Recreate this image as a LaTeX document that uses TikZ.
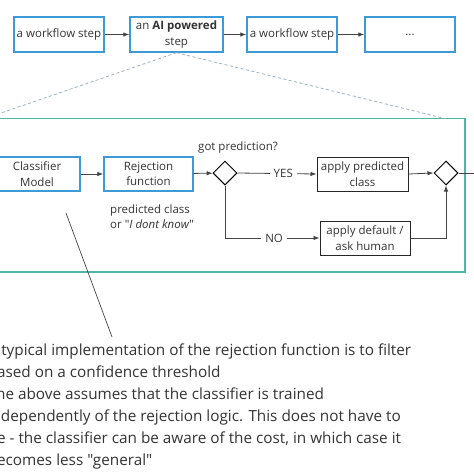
\documentclass[tikz,border=0pt]{standalone}
\usepackage{fontspec}
\setmainfont{Open Sans}[Ligatures=TeXOff]
\usetikzlibrary{shapes.geometric,arrows.meta}
\definecolor{boxblue}{HTML}{3D9AD6}
\definecolor{frameteal}{HTML}{4DB6A8}
\definecolor{linegray}{HTML}{444444}
\definecolor{txt}{HTML}{333333}
\definecolor{dashgray}{HTML}{9AB0BE}
\begin{document}
\begin{tikzpicture}[x=1pt,y=-1pt,
  boxtext/.style={align=center,font=\fontsize{11.5}{15.5}\selectfont,text=txt,inner sep=1pt},
  bluebox/.style={boxtext,draw=boxblue,line width=1.4pt,minimum height=35pt},
  blackbox/.style={boxtext,draw=black!85,line width=1pt,minimum height=34pt},
  dia/.style={diamond,draw=black,line width=1pt,minimum width=24pt,minimum height=24pt,inner sep=0pt},
  arr/.style={-{Latex[length=6pt,width=4.5pt]},draw=linegray,line width=0.8pt},
  plain/.style={draw=linegray,line width=0.8pt},
  lbl/.style={font=\fontsize{11.5}{15.5}\selectfont,text=txt,inner sep=1pt},
  note/.style={anchor=base west,font=\fontsize{15.3}{22}\selectfont,text=txt,inner sep=0pt},
  dashline/.style={draw=dashgray,dash pattern=on 3pt off 2.5pt,line width=0.8pt},
]
\useasboundingbox (0,0) rectangle (474,474);
\clip (0,0) rectangle (474,474);
% top row
\node[bluebox,minimum width=90pt] (w1) at (59,34.5) {a workflow step};
\node[bluebox,minimum width=93pt] (ai) at (176.5,34.5) {an \textbf{AI powered}\\step};
\node[bluebox,minimum width=90pt] (w3) at (292,34.5) {a workflow step};
\node[bluebox,minimum width=90pt] (w4) at (410,34.5) {...};
\draw[arr] (w1) -- (ai);
\draw[arr] (ai) -- (w3);
\draw[arr] (w3) -- (w4);
% frame
\node[draw=frameteal,line width=1.4pt,minimum width=485pt,minimum height=153.5pt,inner sep=0pt] (frame) at (222.5,195.25) {};
\coordinate (dl) at (-15,118.5);
\coordinate (dr) at (445,118.5);
\draw[dashline] (ai.south) -- (dl);
\draw[dashline] (ai.south) -- (dr);
% inner flow
\node[bluebox,minimum width=86pt,minimum height=34pt] (cls) at (37,174) {Classifier\\Model};
\node[bluebox,minimum width=89pt,minimum height=34pt] (rej) at (148.5,174) {Rejection\\function};
\node[dia] (d1) at (225,173) {};
\node[blackbox,minimum width=91pt] (ap) at (362.5,174) {apply predicted\\class};
\node[blackbox,minimum width=90pt] (ad) at (365,238) {apply default /\\ask human};
\node[dia] (d2) at (446,173) {};
\coordinate (out) at (480,173);
\node[lbl] (gp) at (238,148) {got prediction?};
\node[lbl,anchor=west,align=left] (pc) at (109,216.5) {predicted class\\or "\textit{I dont know}"};
\draw[arr] (cls) -- (rej);
\draw[arr] (rej) -- (d1);
\draw[arr] (d1.east) -- node[lbl,fill=white,inner xsep=4pt,pos=0.58] (yes) {YES} (ap.west);
\draw[arr] (d1.south) |- node[lbl,fill=white,inner xsep=4pt,pos=0.76] (no) {NO} (ad.west);
\draw[arr] (ap.east) -- (d2.west);
\draw[arr] (ad.east) -| (d2.south);
\draw[plain] (d2.east) -- (out);
% note
\node[note] (t1) at (-12.5,355) {A typical implementation of the rejection function is to filter};
\node[note] (t2) at (-12.5,377) {based on a confidence threshold};
\node[note] (t3) at (-12.5,399) {The above assumes that the classifier is trained};
\node[note] (t4) at (-12.5,421) {independently of the rejection logic. This does not have to};
\node[note] (t5) at (-12.5,443) {be - the classifier can be aware of the cost, in which case it};
\node[note] (t6) at (-12.5,465) {becomes less "general"};
\coordinate (ns) at (66,213);
\coordinate (ne) at (112,337);
\draw[draw=linegray,line width=0.7pt] (ns) -- (ne);
\end{tikzpicture}
\end{document}
